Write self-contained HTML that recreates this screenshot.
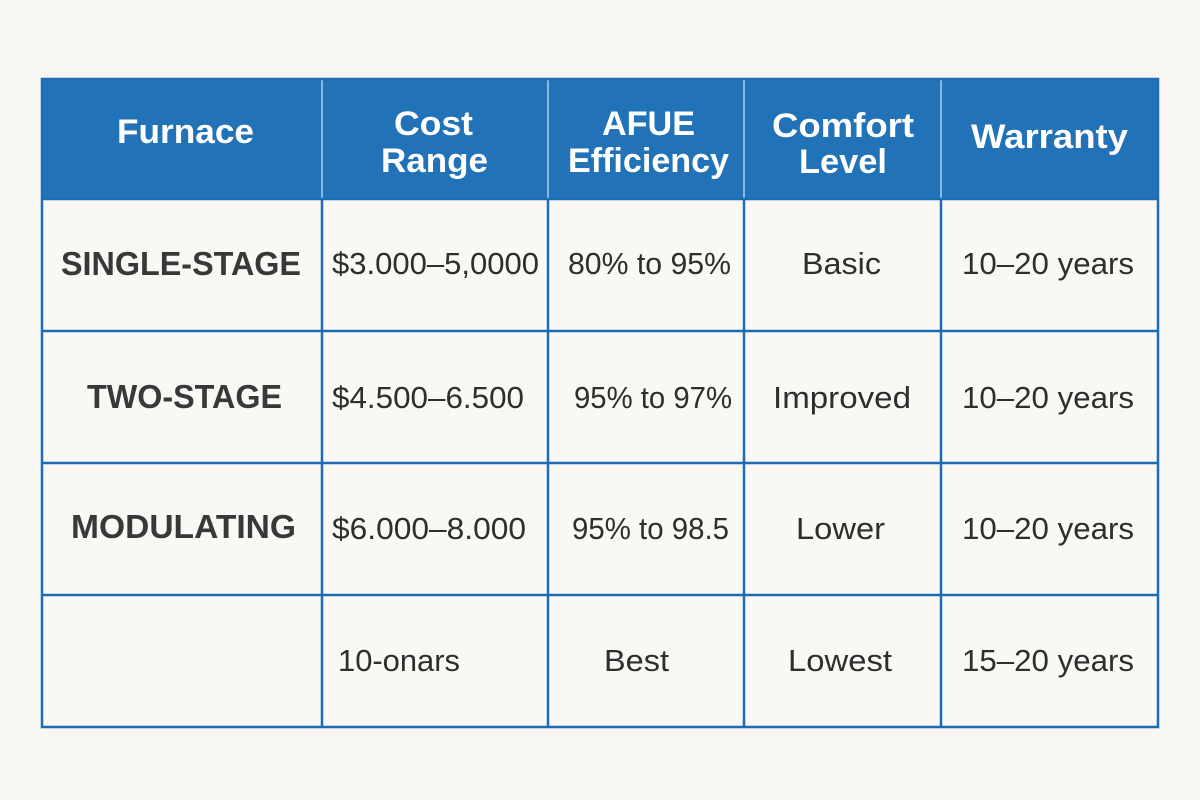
<!DOCTYPE html>
<html>
<head>
<meta charset="utf-8">
<style>
html,body{margin:0;padding:0;background:#f7f6f2;}
svg{display:block;}
.h{font-family:"Liberation Sans",Arial,sans-serif;font-weight:bold;font-size:34px;fill:#ffffff;}
.b{font-family:"Liberation Sans",Arial,sans-serif;font-weight:bold;font-size:33px;fill:#383838;}
.r{font-family:"Liberation Sans",Arial,sans-serif;font-size:31px;fill:#2e2e2e;}
</style>
</head>
<body>
<svg width="1200" height="800" viewBox="0 0 1200 800" xmlns="http://www.w3.org/2000/svg">
  <rect x="0" y="0" width="1200" height="800" fill="#f7f6f2"/>
  <rect x="42" y="79" width="1116" height="648" fill="#f9f8f4"/>
  <rect x="42" y="79" width="1116" height="120" fill="#2172b6"/>
  <!-- header dividers -->
  <g stroke="#86b8e2" stroke-width="2">
    <line x1="322" y1="80" x2="322" y2="199"/>
    <line x1="548" y1="80" x2="548" y2="199"/>
    <line x1="744" y1="80" x2="744" y2="199"/>
    <line x1="941" y1="80" x2="941" y2="199"/>
  </g>
  <!-- body grid -->
  <g stroke="#1e6cb3" stroke-width="2.5">
    <line x1="322" y1="199" x2="322" y2="727"/>
    <line x1="548" y1="199" x2="548" y2="727"/>
    <line x1="744" y1="199" x2="744" y2="727"/>
    <line x1="941" y1="199" x2="941" y2="727"/>
    <line x1="42" y1="199" x2="1158" y2="199"/>
    <line x1="42" y1="331" x2="1158" y2="331"/>
    <line x1="42" y1="463" x2="1158" y2="463"/>
    <line x1="42" y1="595" x2="1158" y2="595"/>
  </g>
  <rect x="42" y="79" width="1116" height="648" fill="none" stroke="#1e6cb3" stroke-width="2.5"/>

  <!-- header text -->
  <text class="h" x="117" y="143" textLength="137" lengthAdjust="spacingAndGlyphs">Furnace</text>
  <text class="h" x="394" y="135" textLength="79" lengthAdjust="spacingAndGlyphs">Cost</text>
  <text class="h" x="381" y="172" textLength="107" lengthAdjust="spacingAndGlyphs">Range</text>
  <text class="h" x="602" y="135" textLength="93" lengthAdjust="spacingAndGlyphs">AFUE</text>
  <text class="h" x="568" y="172" textLength="161" lengthAdjust="spacingAndGlyphs">Efficiency</text>
  <text class="h" x="772" y="137" textLength="142" lengthAdjust="spacingAndGlyphs">Comfort</text>
  <text class="h" x="799" y="173" textLength="88" lengthAdjust="spacingAndGlyphs">Level</text>
  <text class="h" x="971" y="148" textLength="157" lengthAdjust="spacingAndGlyphs">Warranty</text>

  <!-- row 1 -->
  <text class="b" x="61" y="275" textLength="240" lengthAdjust="spacingAndGlyphs">SINGLE-STAGE</text>
  <text class="r" x="332" y="274" textLength="207" lengthAdjust="spacingAndGlyphs">$3.000–5,0000</text>
  <text class="r" x="568" y="274" textLength="163" lengthAdjust="spacingAndGlyphs">80% to 95%</text>
  <text class="r" x="802" y="274" textLength="79" lengthAdjust="spacingAndGlyphs">Basic</text>
  <text class="r" x="962" y="274" textLength="172" lengthAdjust="spacingAndGlyphs">10–20 years</text>

  <!-- row 2 -->
  <text class="b" x="87" y="408" textLength="195" lengthAdjust="spacingAndGlyphs">TWO-STAGE</text>
  <text class="r" x="332" y="408" textLength="192" lengthAdjust="spacingAndGlyphs">$4.500–6.500</text>
  <text class="r" x="574" y="408" textLength="158" lengthAdjust="spacingAndGlyphs">95% to 97%</text>
  <text class="r" x="773" y="408" textLength="138" lengthAdjust="spacingAndGlyphs">Improved</text>
  <text class="r" x="962" y="408" textLength="172" lengthAdjust="spacingAndGlyphs">10–20 years</text>

  <!-- row 3 -->
  <text class="b" x="71" y="538" textLength="225" lengthAdjust="spacingAndGlyphs">MODULATING</text>
  <text class="r" x="332" y="539" textLength="194" lengthAdjust="spacingAndGlyphs">$6.000–8.000</text>
  <text class="r" x="572" y="539" textLength="157" lengthAdjust="spacingAndGlyphs">95% to 98.5</text>
  <text class="r" x="796" y="539" textLength="89" lengthAdjust="spacingAndGlyphs">Lower</text>
  <text class="r" x="962" y="539" textLength="172" lengthAdjust="spacingAndGlyphs">10–20 years</text>

  <!-- row 4 -->
  <text class="r" x="338" y="671" textLength="122" lengthAdjust="spacingAndGlyphs">10-onars</text>
  <text class="r" x="604" y="671" textLength="65" lengthAdjust="spacingAndGlyphs">Best</text>
  <text class="r" x="788" y="671" textLength="104" lengthAdjust="spacingAndGlyphs">Lowest</text>
  <text class="r" x="962" y="671" textLength="172" lengthAdjust="spacingAndGlyphs">15–20 years</text>
</svg>
</body>
</html>
